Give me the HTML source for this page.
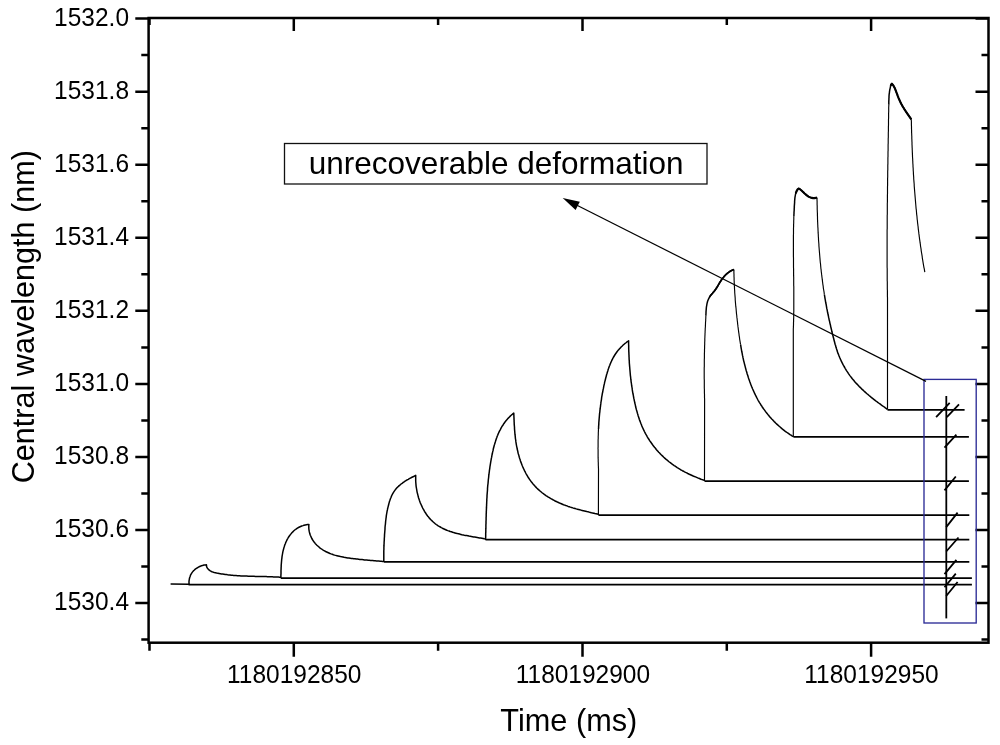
<!DOCTYPE html>
<html><head><meta charset="utf-8"><title>chart</title>
<style>
html,body{margin:0;padding:0;background:#fff;}
body{width:1000px;height:745px;overflow:hidden;}
svg{display:block;font-family:"Liberation Sans",Arial,sans-serif;fill:#000;}
</style></head><body>
<svg width="1000" height="745" viewBox="0 0 1000 745">
<rect width="1000" height="745" fill="#fff"/>
<g fill="none" stroke="#000" stroke-width="2.5">
<rect x="148.6" y="18.0" width="839.9" height="624.7"/>
<path d="M148.6 18.6 H135.3M988.5 18.6 H975.5M148.6 55.1 H141.3M988.5 55.1 H981.5M148.6 91.7 H135.3M988.5 91.7 H975.5M148.6 128.2 H141.3M988.5 128.2 H981.5M148.6 164.7 H135.3M988.5 164.7 H975.5M148.6 201.2 H141.3M988.5 201.2 H981.5M148.6 237.8 H135.3M988.5 237.8 H975.5M148.6 274.3 H141.3M988.5 274.3 H981.5M148.6 310.8 H135.3M988.5 310.8 H975.5M148.6 347.4 H141.3M988.5 347.4 H981.5M148.6 383.9 H135.3M988.5 383.9 H975.5M148.6 420.4 H141.3M988.5 420.4 H981.5M148.6 457.0 H135.3M988.5 457.0 H975.5M148.6 493.5 H141.3M988.5 493.5 H981.5M148.6 530.0 H135.3M988.5 530.0 H975.5M148.6 566.6 H141.3M988.5 566.6 H981.5M148.6 603.1 H135.3M988.5 603.1 H975.5M148.6 639.6 H141.3M988.5 639.6 H981.5M149.5 642.7 V650.7M149.5 18.0 V25.0M293.8 642.7 V656.7M293.8 18.0 V31.0M438.1 642.7 V650.7M438.1 18.0 V25.0M582.5 642.7 V656.7M582.5 18.0 V31.0M726.8 642.7 V650.7M726.8 18.0 V25.0M871.1 642.7 V656.7M871.1 18.0 V31.0"/>
</g>
<g font-size="24.5"><text transform="translate(129 25.9) scale(1 1.065)" text-anchor="end">1532.0</text><text transform="translate(129 99.0) scale(1 1.065)" text-anchor="end">1531.8</text><text transform="translate(129 172.0) scale(1 1.065)" text-anchor="end">1531.6</text><text transform="translate(129 245.1) scale(1 1.065)" text-anchor="end">1531.4</text><text transform="translate(129 318.1) scale(1 1.065)" text-anchor="end">1531.2</text><text transform="translate(129 391.2) scale(1 1.065)" text-anchor="end">1531.0</text><text transform="translate(129 464.3) scale(1 1.065)" text-anchor="end">1530.8</text><text transform="translate(129 537.3) scale(1 1.065)" text-anchor="end">1530.6</text><text transform="translate(129 610.4) scale(1 1.065)" text-anchor="end">1530.4</text><text transform="translate(294.2 683) scale(1 1.045)" text-anchor="middle">1180192850</text><text transform="translate(582.9 683) scale(1 1.045)" text-anchor="middle">1180192900</text><text transform="translate(871.5 683) scale(1 1.045)" text-anchor="middle">1180192950</text></g>
<text transform="translate(568.8 730.6) scale(1 1.045)" font-size="30.7" text-anchor="middle">Time (ms)</text>
<text transform="translate(34.3 316.7) rotate(-90) scale(1 1.045)" font-size="30.6" text-anchor="middle">Central wavelength (nm)</text>
<path d="M170.6 584.0 L189.1 584.2 L189.1 583.8 L189.0 582.5 L189.0 581.2 L189.2 580.0 L189.4 578.7 L189.7 577.5 L190.1 576.4 L190.5 575.2 L191.1 574.1 L191.7 573.1 L192.4 572.1 L193.2 571.1 L194.1 570.3 L195.0 569.4 L196.0 568.7 L197.0 568.0 L198.1 567.3 L199.2 566.7 L200.3 566.2 L201.5 565.8 L202.7 565.4 L203.9 565.1 L205.2 564.9 L206.4 564.7 L206.4 564.7 L206.5 566.0 L206.8 567.2 L207.4 568.2 L208.2 569.1 L209.0 569.9 L209.9 570.6 L210.9 571.2 L212.0 571.7 L213.1 572.1 L214.2 572.5 L215.4 572.8 L216.6 573.1 L217.9 573.3 L219.1 573.5 L220.3 573.7 L221.5 573.9 L222.7 574.1 L224.0 574.3 L225.2 574.5 L226.4 574.6 L227.6 574.8 L228.8 574.9 L230.0 575.0 L231.2 575.2 L232.5 575.3 L233.7 575.4 L234.9 575.5 L236.1 575.6 L237.3 575.7 L238.5 575.7 L239.7 575.8 L240.9 575.9 L242.1 575.9 L243.3 576.0 L244.5 576.0 L245.7 576.1 L246.9 576.1 L248.1 576.2 L249.3 576.2 L250.5 576.2 L251.7 576.3 L252.9 576.3 L254.1 576.3 L255.4 576.4 L256.6 576.4 L257.8 576.4 L259.0 576.4 L260.2 576.5 L261.4 576.5 L262.6 576.5 L263.8 576.6 L265.0 576.6 L266.2 576.6 L267.4 576.7 L268.6 576.7 L269.8 576.7 L271.1 576.8 L272.3 576.8 L273.5 576.9 L274.7 576.9 L275.9 577.0 L277.1 577.1 L278.4 577.1 L279.6 577.2 L280.8 577.3 L280.9 577.4 L280.9 576.2 L280.9 575.1 L281.0 573.9 L281.0 572.7 L281.0 571.5 L281.0 570.3 L281.1 569.1 L281.1 567.9 L281.2 566.7 L281.2 565.4 L281.3 564.2 L281.4 563.0 L281.5 561.8 L281.6 560.6 L281.7 559.3 L281.9 558.1 L282.0 556.9 L282.2 555.7 L282.4 554.5 L282.6 553.3 L282.8 552.1 L283.1 550.9 L283.4 549.7 L283.7 548.6 L284.0 547.4 L284.4 546.3 L284.7 545.1 L285.2 544.0 L285.6 542.9 L286.1 541.8 L286.6 540.7 L287.1 539.6 L287.7 538.6 L288.3 537.5 L289.0 536.5 L289.7 535.5 L290.4 534.6 L291.2 533.6 L291.9 532.7 L292.8 531.9 L293.6 531.0 L294.5 530.2 L295.5 529.5 L296.4 528.8 L297.4 528.1 L298.5 527.5 L299.5 527.0 L300.6 526.5 L301.7 526.0 L302.9 525.6 L304.0 525.2 L305.2 524.9 L306.4 524.7 L307.7 524.5 L308.9 524.4 L308.9 524.4 L308.8 525.6 L308.8 526.9 L308.8 528.1 L308.9 529.3 L309.1 530.6 L309.3 531.7 L309.6 532.9 L309.9 534.1 L310.3 535.2 L310.8 536.3 L311.3 537.4 L311.8 538.5 L312.4 539.5 L313.1 540.6 L313.7 541.5 L314.5 542.5 L315.2 543.4 L316.0 544.3 L316.9 545.2 L317.8 546.0 L318.7 546.8 L319.6 547.6 L320.5 548.3 L321.5 549.0 L322.5 549.7 L323.5 550.3 L324.6 550.9 L325.6 551.5 L326.7 552.0 L327.8 552.5 L328.9 553.0 L330.0 553.5 L331.1 553.9 L332.3 554.3 L333.4 554.7 L334.6 555.1 L335.7 555.4 L336.9 555.7 L338.1 556.0 L339.3 556.3 L340.5 556.6 L341.7 556.8 L342.9 557.0 L344.1 557.3 L345.3 557.5 L346.5 557.7 L347.8 557.9 L349.0 558.0 L350.2 558.2 L351.4 558.4 L352.6 558.5 L353.8 558.7 L355.0 558.8 L356.2 559.0 L357.4 559.1 L358.6 559.2 L359.8 559.4 L361.0 559.5 L362.2 559.6 L363.3 559.7 L364.5 559.9 L365.7 560.0 L366.9 560.1 L368.1 560.2 L369.3 560.3 L370.5 560.4 L371.7 560.5 L372.8 560.6 L374.0 560.7 L375.2 560.8 L376.5 560.9 L377.7 561.0 L378.9 561.1 L380.1 561.2 L381.3 561.3 L382.6 561.4 L383.8 561.5 L383.8 561.6 L383.8 560.4 L383.8 559.2 L383.8 558.0 L383.8 556.8 L383.8 555.5 L383.8 554.3 L383.8 553.1 L383.8 551.9 L383.8 550.7 L383.9 549.5 L383.9 548.3 L383.9 547.1 L384.0 545.9 L384.0 544.7 L384.1 543.5 L384.1 542.3 L384.2 541.1 L384.3 539.9 L384.3 538.7 L384.4 537.5 L384.5 536.3 L384.5 535.1 L384.6 533.9 L384.7 532.7 L384.8 531.5 L384.9 530.3 L385.0 529.1 L385.0 527.9 L385.1 526.7 L385.2 525.5 L385.4 524.3 L385.5 523.1 L385.6 521.9 L385.7 520.7 L385.9 519.5 L386.0 518.3 L386.2 517.1 L386.3 515.9 L386.5 514.7 L386.7 513.5 L386.9 512.3 L387.1 511.1 L387.4 509.9 L387.6 508.7 L387.9 507.6 L388.2 506.4 L388.5 505.2 L388.8 504.0 L389.1 502.9 L389.4 501.7 L389.8 500.6 L390.2 499.4 L390.6 498.3 L391.1 497.2 L391.5 496.1 L392.0 495.0 L392.6 493.9 L393.2 492.9 L393.8 491.9 L394.5 490.9 L395.2 489.9 L395.9 489.0 L396.7 488.1 L397.5 487.2 L398.4 486.4 L399.2 485.6 L400.2 484.8 L401.1 484.0 L402.1 483.3 L403.1 482.5 L404.1 481.9 L405.1 481.2 L406.1 480.5 L407.2 479.9 L408.3 479.3 L409.3 478.7 L410.4 478.1 L411.5 477.5 L412.5 477.0 L413.6 476.5 L414.7 475.9 L415.7 475.4 L415.7 475.4 L415.7 476.6 L415.7 477.7 L415.7 478.9 L415.7 480.1 L415.7 481.3 L415.8 482.5 L415.9 483.7 L416.0 484.9 L416.1 486.1 L416.3 487.3 L416.5 488.5 L416.7 489.7 L416.9 490.9 L417.1 492.1 L417.4 493.2 L417.7 494.4 L418.0 495.6 L418.3 496.8 L418.6 498.0 L419.0 499.1 L419.4 500.3 L419.8 501.4 L420.2 502.6 L420.7 503.7 L421.2 504.8 L421.7 505.9 L422.2 507.0 L422.7 508.1 L423.3 509.2 L423.9 510.2 L424.5 511.3 L425.1 512.3 L425.8 513.3 L426.4 514.3 L427.1 515.3 L427.8 516.2 L428.6 517.1 L429.3 518.1 L430.1 518.9 L430.9 519.8 L431.8 520.6 L432.6 521.5 L433.5 522.2 L434.4 523.0 L435.3 523.8 L436.3 524.5 L437.2 525.1 L438.2 525.8 L439.2 526.4 L440.3 527.0 L441.3 527.6 L442.4 528.2 L443.5 528.7 L444.6 529.2 L445.7 529.7 L446.8 530.2 L447.9 530.6 L449.1 531.0 L450.2 531.5 L451.4 531.8 L452.6 532.2 L453.7 532.6 L454.9 532.9 L456.1 533.2 L457.3 533.6 L458.4 533.8 L459.6 534.1 L460.8 534.4 L462.0 534.7 L463.2 534.9 L464.3 535.2 L465.5 535.4 L466.7 535.6 L467.8 535.8 L469.0 536.1 L470.2 536.3 L471.3 536.5 L472.5 536.7 L473.7 536.9 L474.8 537.1 L476.0 537.3 L477.2 537.5 L478.4 537.7 L479.5 537.9 L480.7 538.1 L481.9 538.3 L483.1 538.5 L484.3 538.8 L485.5 539.0 L485.6 539.3 L485.6 538.1 L485.7 536.9 L485.7 535.7 L485.7 534.5 L485.7 533.3 L485.8 532.1 L485.8 530.9 L485.8 529.7 L485.9 528.4 L485.9 527.2 L485.9 526.0 L485.9 524.8 L486.0 523.6 L486.0 522.4 L486.0 521.2 L486.1 520.0 L486.1 518.8 L486.1 517.6 L486.2 516.4 L486.2 515.2 L486.2 514.0 L486.3 512.8 L486.3 511.5 L486.4 510.3 L486.4 509.1 L486.5 507.9 L486.5 506.7 L486.6 505.5 L486.6 504.3 L486.7 503.1 L486.7 501.9 L486.8 500.7 L486.8 499.5 L486.9 498.3 L487.0 497.1 L487.0 495.9 L487.1 494.6 L487.2 493.4 L487.3 492.2 L487.4 491.0 L487.5 489.8 L487.5 488.6 L487.6 487.4 L487.7 486.2 L487.8 485.0 L488.0 483.8 L488.1 482.6 L488.2 481.4 L488.3 480.2 L488.4 479.0 L488.6 477.8 L488.7 476.6 L488.8 475.4 L489.0 474.2 L489.1 473.0 L489.3 471.8 L489.4 470.6 L489.6 469.4 L489.8 468.2 L489.9 467.0 L490.1 465.8 L490.3 464.6 L490.5 463.4 L490.7 462.2 L490.9 461.0 L491.1 459.8 L491.3 458.6 L491.6 457.4 L491.8 456.2 L492.0 455.0 L492.3 453.8 L492.5 452.6 L492.8 451.4 L493.1 450.2 L493.3 449.0 L493.6 447.8 L493.9 446.7 L494.2 445.5 L494.6 444.3 L494.9 443.2 L495.3 442.0 L495.6 440.9 L496.0 439.7 L496.4 438.6 L496.8 437.5 L497.2 436.3 L497.7 435.2 L498.1 434.1 L498.6 433.0 L499.1 431.9 L499.6 430.9 L500.2 429.8 L500.7 428.8 L501.3 427.7 L501.9 426.7 L502.5 425.7 L503.2 424.7 L503.8 423.7 L504.5 422.7 L505.2 421.8 L506.0 420.8 L506.7 419.9 L507.5 419.0 L508.3 418.1 L509.2 417.2 L510.0 416.4 L510.9 415.5 L511.9 414.7 L512.8 413.9 L513.8 413.1 L513.8 413.1 L513.8 414.3 L513.9 415.5 L513.9 416.7 L514.0 417.9 L514.0 419.1 L514.1 420.3 L514.1 421.5 L514.2 422.7 L514.2 423.9 L514.3 425.1 L514.4 426.3 L514.5 427.5 L514.5 428.7 L514.6 429.9 L514.7 431.1 L514.8 432.3 L514.9 433.5 L515.0 434.7 L515.2 435.9 L515.3 437.1 L515.4 438.3 L515.6 439.5 L515.8 440.7 L515.9 441.9 L516.1 443.1 L516.3 444.3 L516.5 445.5 L516.7 446.6 L517.0 447.8 L517.2 449.0 L517.5 450.2 L517.8 451.4 L518.0 452.6 L518.3 453.8 L518.7 454.9 L519.0 456.1 L519.3 457.3 L519.7 458.5 L520.1 459.6 L520.4 460.8 L520.8 461.9 L521.3 463.1 L521.7 464.2 L522.1 465.3 L522.6 466.5 L523.1 467.6 L523.6 468.7 L524.1 469.8 L524.6 470.9 L525.2 471.9 L525.7 473.0 L526.3 474.1 L526.9 475.1 L527.5 476.1 L528.1 477.2 L528.8 478.2 L529.4 479.2 L530.1 480.1 L530.8 481.1 L531.5 482.1 L532.3 483.0 L533.0 483.9 L533.8 484.8 L534.6 485.7 L535.4 486.6 L536.2 487.4 L537.0 488.3 L537.9 489.1 L538.8 489.9 L539.7 490.7 L540.6 491.5 L541.5 492.2 L542.4 493.0 L543.4 493.7 L544.3 494.4 L545.3 495.1 L546.3 495.8 L547.3 496.4 L548.3 497.1 L549.4 497.7 L550.4 498.3 L551.4 498.9 L552.5 499.5 L553.6 500.1 L554.6 500.7 L555.7 501.2 L556.8 501.7 L557.9 502.3 L559.0 502.8 L560.2 503.3 L561.3 503.7 L562.4 504.2 L563.5 504.7 L564.7 505.1 L565.8 505.5 L567.0 505.9 L568.1 506.4 L569.3 506.7 L570.4 507.1 L571.6 507.5 L572.8 507.9 L573.9 508.2 L575.1 508.5 L576.3 508.9 L577.4 509.2 L578.6 509.5 L579.8 509.8 L580.9 510.1 L582.1 510.4 L583.3 510.7 L584.5 511.0 L585.6 511.3 L586.8 511.6 L588.0 511.8 L589.1 512.1 L590.3 512.4 L591.5 512.7 L592.6 512.9 L593.8 513.2 L594.9 513.5 L596.1 513.7 L597.3 514.0 L598.4 514.3 L598.4 515.0M598.5 429.0 L598.6 427.8 L598.6 426.6 L598.7 425.4 L598.8 424.2 L598.8 423.0 L598.9 421.8 L599.0 420.6 L599.1 419.4 L599.2 418.2 L599.3 417.0 L599.4 415.8 L599.5 414.6 L599.6 413.4 L599.8 412.2 L599.9 411.0 L600.0 409.8 L600.2 408.7 L600.3 407.5 L600.5 406.3 L600.6 405.1 L600.8 403.9 L600.9 402.7 L601.1 401.5 L601.3 400.3 L601.5 399.1 L601.6 397.9 L601.8 396.7 L602.0 395.6 L602.2 394.4 L602.4 393.2 L602.7 392.0 L602.9 390.8 L603.1 389.6 L603.4 388.4 L603.6 387.3 L603.8 386.1 L604.1 384.9 L604.4 383.7 L604.6 382.5 L604.9 381.4 L605.2 380.2 L605.5 379.0 L605.8 377.8 L606.1 376.7 L606.4 375.5 L606.7 374.3 L607.1 373.2 L607.4 372.0 L607.8 370.9 L608.1 369.7 L608.5 368.6 L608.9 367.4 L609.3 366.3 L609.8 365.2 L610.2 364.0 L610.7 362.9 L611.2 361.8 L611.7 360.7 L612.2 359.7 L612.7 358.6 L613.3 357.5 L613.9 356.5 L614.5 355.5 L615.1 354.5 L615.8 353.5 L616.5 352.5 L617.2 351.5 L617.9 350.6 L618.7 349.7 L619.5 348.8 L620.3 347.9 L621.1 347.0 L622.0 346.2 L622.9 345.3 L623.8 344.5 L624.7 343.7 L625.7 343.0 L626.6 342.2 L627.6 341.5 L628.6 340.8 L628.6 342.0 L628.6 343.2 L628.6 344.4 L628.7 345.6 L628.7 346.8 L628.7 348.0 L628.7 349.3 L628.8 350.5 L628.8 351.7 L628.9 352.9 L628.9 354.1 L629.0 355.3 L629.0 356.5 L629.1 357.7 L629.1 358.9 L629.2 360.1 L629.3 361.3 L629.3 362.5 L629.4 363.7 L629.5 364.9 L629.6 366.1 L629.7 367.3 L629.8 368.5 L629.9 369.7 L630.0 370.8 L630.1 372.0 L630.2 373.2 L630.3 374.4 L630.4 375.6 L630.6 376.8 L630.7 378.0 L630.8 379.2 L631.0 380.4 L631.1 381.6 L631.3 382.8 L631.5 384.0 L631.6 385.2 L631.8 386.3 L632.0 387.5 L632.2 388.7 L632.3 389.9 L632.5 391.1 L632.7 392.3 L632.9 393.5 L633.2 394.7 L633.4 395.9 L633.6 397.0 L633.8 398.2 L634.1 399.4 L634.3 400.6 L634.6 401.8 L634.8 403.0 L635.1 404.1 L635.4 405.3 L635.6 406.5 L635.9 407.7 L636.2 408.9 L636.5 410.0 L636.9 411.2 L637.2 412.4 L637.5 413.5 L637.9 414.7 L638.2 415.9 L638.6 417.0 L639.0 418.2 L639.3 419.3 L639.7 420.4 L640.2 421.6 L640.6 422.7 L641.0 423.8 L641.5 424.9 L641.9 426.1 L642.4 427.2 L642.9 428.3 L643.4 429.4 L643.9 430.4 L644.4 431.5 L645.0 432.6 L645.5 433.6 L646.1 434.7 L646.7 435.7 L647.3 436.8 L647.9 437.8 L648.5 438.8 L649.2 439.8 L649.8 440.9 L650.5 441.8 L651.2 442.8 L651.9 443.8 L652.6 444.8 L653.3 445.7 L654.1 446.7 L654.8 447.6 L655.6 448.5 L656.3 449.5 L657.1 450.4 L657.9 451.3 L658.7 452.2 L659.6 453.0 L660.4 453.9 L661.2 454.8 L662.1 455.6 L663.0 456.4 L663.8 457.3 L664.7 458.1 L665.6 458.9 L666.5 459.7 L667.5 460.4 L668.4 461.2 L669.3 462.0 L670.3 462.7 L671.2 463.4 L672.2 464.2 L673.2 464.9 L674.2 465.6 L675.2 466.2 L676.2 466.9 L677.2 467.6 L678.2 468.2 L679.3 468.8 L680.3 469.5 L681.3 470.1 L682.4 470.7 L683.5 471.2 L684.5 471.8 L685.6 472.4 L686.7 472.9 L687.8 473.5 L688.8 474.0 L689.9 474.5 L691.0 475.0 L692.1 475.5 L693.2 476.0 L694.4 476.5 L695.5 476.9 L696.6 477.4 L697.7 477.9 L698.8 478.3 L699.9 478.7 L701.0 479.2 L702.2 479.6 L703.3 480.0 L704.4 480.4M705.9 315.7 L705.9 314.5 L706.0 313.3 L706.0 312.1 L706.1 310.8 L706.2 309.6 L706.3 308.4 L706.4 307.2 L706.6 306.0 L706.8 304.8 L707.0 303.6 L707.3 302.5 L707.6 301.3 L708.0 300.2 L708.5 299.1 L709.0 298.1 L709.5 297.1 L710.2 296.1 L710.9 295.1 L711.7 294.2 L712.5 293.3 L713.3 292.3 L714.1 291.4 L714.8 290.5 L715.5 289.5 L716.2 288.5 L716.8 287.5 L717.5 286.5 L718.1 285.4 L718.7 284.4 L719.3 283.3 L719.9 282.3 L720.6 281.3 L721.2 280.3 L721.9 279.3 L722.7 278.3 L723.4 277.4 L724.2 276.4 L725.0 275.5 L725.8 274.7 L726.7 273.9 L727.6 273.1 L728.6 272.4 L729.5 271.7 L730.6 271.0 L731.6 270.5 L732.7 270.0 L733.9 269.5M740.6 344.7 L740.8 345.9 L741.0 347.1 L741.2 348.3 L741.4 349.5 L741.6 350.7 L741.8 351.8 L742.1 353.0 L742.3 354.2 L742.5 355.4 L742.8 356.5 L743.0 357.7 L743.3 358.9 L743.5 360.1 L743.8 361.2 L744.1 362.4 L744.4 363.6 L744.7 364.7 L745.0 365.9 L745.3 367.1 L745.6 368.2 L745.9 369.4 L746.2 370.5 L746.6 371.7 L746.9 372.8 L747.2 374.0 L747.6 375.1 L748.0 376.3 L748.3 377.4 L748.7 378.6 L749.1 379.7 L749.5 380.8 L749.9 382.0 L750.3 383.1 L750.7 384.2 L751.2 385.4 L751.6 386.5 L752.1 387.6 L752.5 388.7 L753.0 389.8 L753.5 390.9 L754.0 392.0 L754.5 393.1 L755.0 394.2 L755.5 395.2 L756.1 396.3 L756.6 397.4 L757.2 398.5 L757.7 399.5 L758.3 400.6 L758.9 401.6 L759.5 402.6 L760.2 403.7 L760.8 404.7 L761.5 405.7 L762.1 406.7 L762.8 407.7 L763.5 408.7 L764.2 409.6 L764.9 410.6 L765.6 411.6 L766.3 412.5 L767.1 413.5 L767.8 414.4 L768.6 415.3 L769.3 416.3 L770.1 417.2 L770.9 418.1 L771.7 419.0 L772.6 419.8 L773.4 420.7 L774.2 421.6 L775.1 422.4 L775.9 423.3 L776.8 424.1 L777.7 424.9 L778.6 425.7 L779.5 426.5 L780.4 427.3 L781.3 428.1 L782.2 428.9 L783.1 429.6 L784.1 430.4 L785.0 431.1 L786.0 431.8 L787.0 432.5 L788.0 433.2 L789.0 433.9 L790.0 434.6 L791.0 435.2 L792.0 435.9 L793.0 436.5M793.9 216.0 L793.9 214.8 L794.0 213.6 L794.0 212.4 L794.1 211.2 L794.2 210.0 L794.2 208.8 L794.3 207.6 L794.3 206.4 L794.4 205.2 L794.5 203.9 L794.6 202.7 L794.6 201.5 L794.7 200.3 L794.8 199.1 L794.9 197.9 L795.1 196.7 L795.3 195.5 L795.5 194.4 L795.8 193.3 L796.2 192.2 L796.6 191.1 L797.2 190.1 L797.8 189.1 L798.9 188.5 L799.9 189.2 L800.9 190.0 L801.8 190.8 L802.8 191.7 L803.7 192.6 L804.6 193.5 L805.6 194.3 L806.5 195.2 L807.5 195.9 L808.5 196.6 L809.6 197.1 L810.7 197.6 L811.9 197.9 L813.1 198.1 L814.4 198.1 L815.7 197.9 L817.0 197.5M824.4 294.7 L824.6 295.9 L824.8 297.1 L825.0 298.3 L825.2 299.5 L825.4 300.6 L825.6 301.8 L825.8 303.0 L826.1 304.2 L826.3 305.4 L826.5 306.6 L826.7 307.8 L826.9 308.9 L827.2 310.1 L827.4 311.3 L827.6 312.5 L827.9 313.7 L828.1 314.8 L828.4 316.0 L828.6 317.2 L828.9 318.4 L829.1 319.6 L829.4 320.7 L829.7 321.9 L829.9 323.1 L830.2 324.3 L830.5 325.4 L830.7 326.6 L831.0 327.8 L831.3 329.0 L831.6 330.1 L831.8 331.3 L832.1 332.5 L832.4 333.7 L832.7 334.8 L833.0 336.0 L833.3 337.2 L833.6 338.3 L833.9 339.5 L834.2 340.7 L834.5 341.8 L834.8 343.0 L835.1 344.2 L835.5 345.3 L835.8 346.5 L836.1 347.6 L836.5 348.8 L836.9 349.9 L837.2 351.1 L837.6 352.2 L838.0 353.4 L838.5 354.5 L838.9 355.6 L839.4 356.7 L839.8 357.8 L840.3 358.9 L840.8 360.0 L841.3 361.1 L841.8 362.2 L842.4 363.3 L842.9 364.4 L843.5 365.4 L844.1 366.5 L844.7 367.5 L845.3 368.6 L845.9 369.6 L846.5 370.6 L847.2 371.6 L847.9 372.6 L848.5 373.6 L849.2 374.6 L849.9 375.6 L850.7 376.6 L851.4 377.5 L852.1 378.5 L852.9 379.4 L853.7 380.3 L854.4 381.2 L855.2 382.2 L856.0 383.1 L856.8 383.9 L857.7 384.8 L858.5 385.7 L859.3 386.6 L860.2 387.4 L861.1 388.3 L861.9 389.1 L862.8 389.9 L863.7 390.8 L864.6 391.6 L865.5 392.4 L866.4 393.2 L867.3 394.0 L868.2 394.7 L869.1 395.5 L870.1 396.3 L871.0 397.1 L871.9 397.8 L872.9 398.6 L873.8 399.3 L874.8 400.1 L875.7 400.8 L876.7 401.5 L877.7 402.3 L878.6 403.0 L879.6 403.7 L880.6 404.4 L881.5 405.1 L882.5 405.8 L883.5 406.5 L884.5 407.2 L885.4 407.9 L886.4 408.6 L887.4 409.3M888.8 104.8 L888.8 103.6 L888.8 102.4 L888.8 101.1 L888.9 99.9 L888.9 98.7 L889.0 97.5 L889.0 96.3 L889.1 95.1 L889.2 93.9 L889.4 92.8 L889.5 91.6 L889.7 90.4 L889.9 89.2 L890.2 88.1 L890.4 86.9 L890.7 85.8 L891.1 84.6 L891.9 83.7 L892.7 84.6 L893.4 85.6 L894.0 86.7 L894.6 87.8 L895.1 88.9 L895.5 90.0 L896.0 91.2 L896.4 92.3 L896.9 93.5 L897.3 94.6 L897.7 95.8 L898.2 97.0 L898.6 98.1 L899.1 99.3 L899.6 100.4 L900.1 101.5 L900.7 102.7 L901.2 103.8 L901.8 104.8 L902.4 105.9 L903.0 107.0 L903.7 108.0 L904.3 109.1 L905.0 110.1 L905.7 111.2 L906.3 112.2 L907.0 113.2 L907.7 114.2 L908.5 115.3 L909.2 116.3 L909.9 117.3 L910.6 118.3 L911.3 119.3" fill="none" stroke="#000" stroke-width="1.5" stroke-linejoin="round"/>
<path d="M598.4 515.0 L598.5 470.0M598.5 470.0 L598.5 468.8 L598.4 467.6 L598.4 466.4 L598.3 465.2 L598.3 464.0 L598.3 462.8 L598.2 461.6 L598.2 460.4 L598.2 459.2 L598.1 457.9 L598.1 456.7 L598.1 455.5 L598.1 454.3 L598.1 453.1 L598.1 451.9 L598.1 450.7 L598.1 449.5 L598.0 448.3 L598.1 447.1 L598.1 445.9 L598.1 444.7 L598.1 443.5 L598.1 442.3 L598.1 441.1 L598.1 439.9 L598.2 438.7 L598.2 437.5 L598.2 436.2 L598.3 435.0 L598.3 433.8 L598.3 432.6 L598.4 431.4 L598.4 430.2 L598.5 429.0M704.5 481.0 L704.6 400.0M704.6 400.0 L704.6 398.9 L704.5 397.7 L704.5 396.5 L704.5 395.4 L704.5 394.2 L704.4 393.0 L704.4 391.9 L704.4 390.7 L704.4 389.5 L704.3 388.3 L704.3 387.2 L704.3 386.0 L704.3 384.8 L704.3 383.6 L704.3 382.4 L704.3 381.2 L704.3 380.0 L704.2 378.8 L704.2 377.6 L704.2 376.4 L704.2 375.2 L704.2 373.9 L704.2 372.7 L704.2 371.5 L704.2 370.3 L704.2 369.1 L704.2 367.9 L704.3 366.6 L704.3 365.4 L704.3 364.2 L704.3 363.0 L704.3 361.8 L704.3 360.5 L704.3 359.3 L704.4 358.1 L704.4 356.9 L704.4 355.6 L704.4 354.4 L704.4 353.2 L704.5 352.0 L704.5 350.7 L704.5 349.5 L704.6 348.3 L704.6 347.1 L704.6 345.9 L704.7 344.6 L704.7 343.4 L704.7 342.2 L704.8 341.0 L704.8 339.8 L704.8 338.5 L704.9 337.3 L704.9 336.1 L705.0 334.9 L705.0 333.7 L705.1 332.5 L705.1 331.3 L705.2 330.1 L705.2 328.9 L705.3 327.7 L705.4 326.5 L705.4 325.3 L705.5 324.1 L705.5 322.9 L705.6 321.8 L705.7 320.6 L705.7 319.4 L705.8 318.2 L705.8 317.0 L705.9 315.7M733.9 269.5 L733.9 270.7 L733.9 271.9 L733.9 273.1 L734.0 274.3 L734.0 275.5 L734.0 276.7 L734.1 277.9 L734.1 279.1 L734.1 280.3 L734.2 281.5 L734.2 282.7 L734.3 283.9 L734.3 285.1 L734.4 286.3 L734.5 287.5 L734.5 288.7 L734.6 289.9 L734.7 291.1 L734.7 292.3 L734.8 293.5 L734.9 294.7 L735.0 295.9 L735.1 297.1 L735.2 298.3 L735.2 299.5 L735.3 300.7 L735.4 301.9 L735.5 303.1 L735.6 304.3 L735.7 305.5 L735.8 306.7 L736.0 307.8 L736.1 309.0 L736.2 310.2 L736.3 311.4 L736.4 312.6 L736.5 313.8 L736.7 315.0 L736.8 316.2 L736.9 317.4 L737.1 318.6 L737.2 319.8 L737.3 321.0 L737.5 322.2 L737.6 323.4 L737.7 324.5 L737.9 325.7 L738.0 326.9 L738.2 328.1 L738.3 329.3 L738.5 330.5 L738.6 331.7 L738.8 332.9 L739.0 334.1 L739.1 335.3 L739.3 336.4 L739.5 337.6 L739.6 338.8 L739.8 340.0 L740.0 341.2 L740.2 342.4 L740.4 343.6 L740.6 344.7M793.3 436.9 L793.3 330.0M793.3 330.0 L793.3 328.8 L793.4 327.6 L793.4 326.4 L793.5 325.1 L793.5 323.9 L793.5 322.7 L793.6 321.5 L793.6 320.3 L793.6 319.1 L793.7 317.9 L793.7 316.7 L793.7 315.5 L793.7 314.3 L793.7 313.0 L793.8 311.8 L793.8 310.6 L793.8 309.4 L793.8 308.2 L793.8 307.0 L793.8 305.8 L793.8 304.6 L793.8 303.4 L793.8 302.2 L793.8 301.0 L793.8 299.8 L793.8 298.6 L793.8 297.4 L793.8 296.2 L793.8 295.0 L793.8 293.8 L793.8 292.6 L793.8 291.4 L793.8 290.2 L793.8 289.0 L793.8 287.8 L793.8 286.6 L793.7 285.4 L793.7 284.2 L793.7 283.0 L793.7 281.8 L793.7 280.6 L793.7 279.4 L793.7 278.2 L793.7 277.1 L793.6 275.9 L793.6 274.7 L793.6 273.5 L793.6 272.3 L793.6 271.1 L793.6 269.9 L793.6 268.7 L793.5 267.5 L793.5 266.3 L793.5 265.1 L793.5 263.9 L793.5 262.7 L793.5 261.5 L793.5 260.3 L793.5 259.1 L793.5 257.9 L793.4 256.7 L793.4 255.6 L793.4 254.4 L793.4 253.2 L793.4 252.0 L793.4 250.8 L793.4 249.6 L793.4 248.4 L793.4 247.2 L793.4 246.0 L793.4 244.8 L793.4 243.6 L793.4 242.4 L793.4 241.2 L793.4 240.0 L793.4 238.8 L793.4 237.6 L793.4 236.4 L793.4 235.2 L793.5 234.0 L793.5 232.8 L793.5 231.6 L793.5 230.4 L793.5 229.2 L793.5 228.0 L793.6 226.8 L793.6 225.6 L793.6 224.4 L793.7 223.2 L793.7 222.0 L793.7 220.8 L793.8 219.6 L793.8 218.4 L793.8 217.2 L793.9 216.0M817.0 197.5 L817.0 198.7 L817.0 199.9 L817.1 201.1 L817.1 202.3 L817.1 203.5 L817.1 204.7 L817.2 205.9 L817.2 207.1 L817.2 208.3 L817.2 209.5 L817.3 210.7 L817.3 211.9 L817.4 213.1 L817.4 214.3 L817.4 215.6 L817.5 216.8 L817.5 218.0 L817.5 219.2 L817.6 220.4 L817.6 221.6 L817.7 222.8 L817.7 224.0 L817.8 225.2 L817.8 226.4 L817.9 227.6 L818.0 228.8 L818.0 230.0 L818.1 231.2 L818.1 232.4 L818.2 233.6 L818.3 234.8 L818.3 236.0 L818.4 237.2 L818.5 238.4 L818.5 239.6 L818.6 240.8 L818.7 242.0 L818.8 243.2 L818.9 244.4 L818.9 245.6 L819.0 246.8 L819.1 248.0 L819.2 249.3 L819.3 250.5 L819.4 251.7 L819.5 252.9 L819.6 254.1 L819.7 255.3 L819.8 256.5 L819.9 257.7 L820.0 258.9 L820.1 260.1 L820.2 261.3 L820.3 262.5 L820.5 263.7 L820.6 264.9 L820.7 266.1 L820.8 267.3 L820.9 268.5 L821.1 269.6 L821.2 270.8 L821.3 272.0 L821.5 273.2 L821.6 274.4 L821.8 275.6 L821.9 276.8 L822.1 278.0 L822.2 279.2 L822.4 280.4 L822.5 281.6 L822.7 282.8 L822.8 284.0 L823.0 285.2 L823.2 286.4 L823.3 287.6 L823.5 288.8 L823.7 290.0 L823.9 291.1 L824.1 292.3 L824.2 293.5 L824.4 294.7M887.5 409.5 L887.5 300.0M887.5 300.0 L887.5 298.8 L887.5 297.6 L887.4 296.4 L887.4 295.2 L887.4 293.9 L887.4 292.7 L887.4 291.5 L887.4 290.3 L887.3 289.1 L887.3 287.9 L887.3 286.7 L887.3 285.5 L887.3 284.3 L887.3 283.0 L887.3 281.8 L887.2 280.6 L887.2 279.4 L887.2 278.2 L887.2 277.0 L887.2 275.8 L887.2 274.6 L887.2 273.4 L887.2 272.2 L887.2 271.0 L887.2 269.7 L887.2 268.5 L887.1 267.3 L887.1 266.1 L887.1 264.9 L887.1 263.7 L887.1 262.5 L887.1 261.3 L887.1 260.1 L887.1 258.9 L887.1 257.7 L887.1 256.5 L887.1 255.3 L887.1 254.1 L887.1 252.9 L887.1 251.7 L887.1 250.4 L887.1 249.2 L887.1 248.0 L887.1 246.8 L887.1 245.6 L887.1 244.4 L887.1 243.2 L887.1 242.0 L887.1 240.8 L887.1 239.6 L887.1 238.4 L887.1 237.2 L887.1 236.0 L887.1 234.8 L887.1 233.6 L887.1 232.4 L887.1 231.2 L887.1 230.0 L887.2 228.8 L887.2 227.6 L887.2 226.4 L887.2 225.2 L887.2 224.0 L887.2 222.8 L887.2 221.6 L887.2 220.4 L887.2 219.2 L887.2 218.0 L887.2 216.7 L887.2 215.5 L887.3 214.3 L887.3 213.1 L887.3 211.9 L887.3 210.7 L887.3 209.5 L887.3 208.3 L887.3 207.1 L887.3 205.9 L887.3 204.7 L887.3 203.5 L887.4 202.3 L887.4 201.1 L887.4 199.9 L887.4 198.7 L887.4 197.5 L887.4 196.3 L887.4 195.1 L887.5 193.9 L887.5 192.7 L887.5 191.5 L887.5 190.3 L887.5 189.1 L887.5 187.9 L887.5 186.7 L887.6 185.5 L887.6 184.3 L887.6 183.1 L887.6 181.9 L887.6 180.7 L887.6 179.5 L887.6 178.3 L887.7 177.1 L887.7 175.9 L887.7 174.7 L887.7 173.5 L887.7 172.3 L887.7 171.1 L887.8 169.9 L887.8 168.7 L887.8 167.5 L887.8 166.3 L887.8 165.1 L887.9 163.9 L887.9 162.7 L887.9 161.4 L887.9 160.2 L887.9 159.0 L887.9 157.8 L888.0 156.6 L888.0 155.4 L888.0 154.2 L888.0 153.0 L888.0 151.8 L888.1 150.6 L888.1 149.4 L888.1 148.2 L888.1 147.0 L888.1 145.8 L888.1 144.6 L888.2 143.4 L888.2 142.2 L888.2 141.0 L888.2 139.8 L888.2 138.6 L888.3 137.4 L888.3 136.2 L888.3 135.0 L888.3 133.8 L888.3 132.5 L888.4 131.3 L888.4 130.1 L888.4 128.9 L888.4 127.7 L888.4 126.5 L888.5 125.3 L888.5 124.1 L888.5 122.9 L888.5 121.7 L888.5 120.5 L888.5 119.3 L888.6 118.1 L888.6 116.9 L888.6 115.7 L888.6 114.4 L888.6 113.2 L888.7 112.0 L888.7 110.8 L888.7 109.6 L888.7 108.4 L888.7 107.2 L888.8 106.0 L888.8 104.8M911.3 119.3 L911.3 120.5 L911.4 121.7 L911.4 122.9 L911.4 124.1 L911.4 125.3 L911.5 126.5 L911.5 127.8 L911.5 129.0 L911.6 130.2 L911.6 131.4 L911.6 132.6 L911.7 133.8 L911.7 135.0 L911.8 136.2 L911.8 137.4 L911.8 138.6 L911.9 139.8 L911.9 141.1 L912.0 142.3 L912.0 143.5 L912.0 144.7 L912.1 145.9 L912.1 147.1 L912.2 148.3 L912.2 149.5 L912.3 150.7 L912.3 151.9 L912.4 153.1 L912.4 154.3 L912.5 155.6 L912.5 156.8 L912.6 158.0 L912.7 159.2 L912.7 160.4 L912.8 161.6 L912.8 162.8 L912.9 164.0 L913.0 165.2 L913.0 166.4 L913.1 167.6 L913.2 168.8 L913.2 170.0 L913.3 171.3 L913.4 172.5 L913.4 173.7 L913.5 174.9 L913.6 176.1 L913.7 177.3 L913.7 178.5 L913.8 179.7 L913.9 180.9 L914.0 182.1 L914.1 183.3 L914.2 184.5 L914.2 185.7 L914.3 186.9 L914.4 188.1 L914.5 189.4 L914.6 190.6 L914.7 191.8 L914.8 193.0 L914.9 194.2 L915.0 195.4 L915.1 196.6 L915.2 197.8 L915.3 199.0 L915.4 200.2 L915.5 201.4 L915.6 202.6 L915.7 203.8 L915.8 205.0 L915.9 206.2 L916.0 207.4 L916.1 208.6 L916.3 209.8 L916.4 211.0 L916.5 212.2 L916.6 213.4 L916.7 214.6 L916.9 215.8 L917.0 217.0 L917.1 218.3 L917.2 219.5 L917.4 220.7 L917.5 221.9 L917.6 223.1 L917.8 224.3 L917.9 225.5 L918.1 226.7 L918.2 227.9 L918.3 229.1 L918.5 230.3 L918.6 231.5 L918.8 232.7 L918.9 233.9 L919.1 235.1 L919.2 236.3 L919.4 237.5 L919.5 238.7 L919.7 239.9 L919.9 241.1 L920.0 242.2 L920.2 243.4 L920.4 244.6 L920.5 245.8 L920.7 247.0 L920.9 248.2 L921.1 249.4 L921.2 250.6 L921.4 251.8 L921.6 253.0 L921.8 254.2 L922.0 255.4 L922.2 256.6 L922.3 257.8 L922.5 259.0 L922.7 260.2 L922.9 261.4 L923.1 262.6 L923.3 263.8 L923.5 265.0 L923.7 266.1 L923.9 267.3 L924.2 268.5 L924.4 269.7 L924.6 270.9 L924.8 272.1" fill="none" stroke="#000" stroke-width="1.15" stroke-linejoin="round"/>
<path d="M709.5 297.1 L710.2 296.1 L710.9 295.1 L711.7 294.2 L712.5 293.3 L713.3 292.3 L714.1 291.4 L714.8 290.5 L715.5 289.5 L716.2 288.5 L716.8 287.5 L717.5 286.5 L718.1 285.4 L718.7 284.4 L719.3 283.3 L719.9 282.3 L720.6 281.3 L721.2 280.3 L721.9 279.3 L722.7 278.3 L723.4 277.4 L724.2 276.4 L725.0 275.5 L725.8 274.7 L726.7 273.9 L727.6 273.1 L728.6 272.4 L729.5 271.7 L730.6 271.0 L731.6 270.5 L732.7 270.0 L733.9 269.5" fill="none" stroke="#000" stroke-width="1.7" stroke-linejoin="round"/>
<path d="M795.8 193.3 L796.2 192.2 L796.6 191.1 L797.2 190.1 L797.8 189.1 L798.9 188.5 L799.9 189.2 L800.9 190.0 L801.8 190.8 L802.8 191.7 L803.7 192.6 L804.6 193.5 L805.6 194.3 L806.5 195.2 L807.5 195.9 L808.5 196.6 L809.6 197.1 L810.7 197.6 L811.9 197.9 L813.1 198.1 L814.4 198.1 L815.7 197.9 L817.0 197.5M890.7 85.8 L891.1 84.6 L891.9 83.7 L892.7 84.6 L893.4 85.6 L894.0 86.7 L894.6 87.8 L895.1 88.9 L895.5 90.0 L896.0 91.2 L896.4 92.3 L896.9 93.5 L897.3 94.6 L897.7 95.8 L898.2 97.0 L898.6 98.1 L899.1 99.3 L899.6 100.4 L900.1 101.5 L900.7 102.7 L901.2 103.8 L901.8 104.8 L902.4 105.9 L903.0 107.0 L903.7 108.0 L904.3 109.1 L905.0 110.1 L905.7 111.2 L906.3 112.2 L907.0 113.2 L907.7 114.2 L908.5 115.3 L909.2 116.3 L909.9 117.3 L910.6 118.3 L911.3 119.3" fill="none" stroke="#000" stroke-width="2.1" stroke-linejoin="round"/>
<path d="M188.5 584.5 H971.9M280.8 578.0 H971.9M383.9 561.8 H969.3M485.5 539.5 H969.3M598.4 515.2 H969.3M704.5 481.0 H968.9M793.4 436.9 H968.9M887.5 409.8 H964.6" fill="none" stroke="#000" stroke-width="1.75"/>
<path d="M946.3 396V618.4" fill="none" stroke="#000" stroke-width="1.8"/>
<path d="M936.1 417.1 L949.7 402.8M946.8 417.1 L959.0 404.4M944.5 447.7 L956.4 434.6M944.5 490.4 L955.8 476.5M946.2 527.1 L957.6 512.6M946.2 551.5 L958.5 537.5M944.5 574.2 L956.4 559.9M944.5 587.3 L955.8 573.6M946.2 596.0 L957.6 582.0" fill="none" stroke="#000" stroke-width="1.8"/>
<rect x="924" y="379.4" width="52.2" height="243.6" fill="none" stroke="#2c2c96" stroke-width="1.35"/>
<path d="M926 381.4L572 202.7" fill="none" stroke="#000" stroke-width="1.2"/>
<path d="M562.7 198.1L579.8 201.8L575.6 210.1Z" fill="#000"/>
<rect x="284.5" y="143.5" width="422.5" height="40.5" fill="#fff" stroke="#111" stroke-width="1.3"/>
<text transform="translate(308.8 174.4) scale(1 1.005)" font-size="31.5" textLength="374.7" lengthAdjust="spacingAndGlyphs">unrecoverable deformation</text>
</svg>
</body></html>
